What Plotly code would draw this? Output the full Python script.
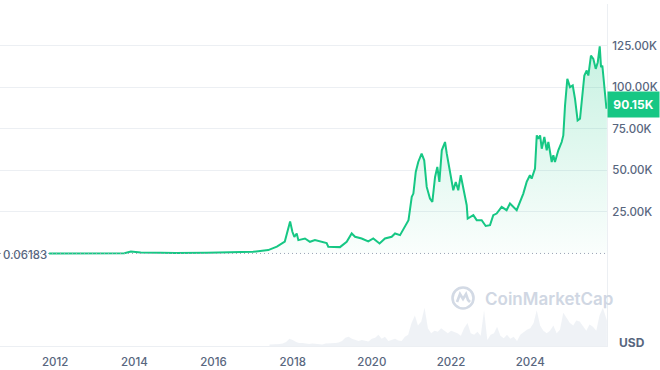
import plotly.graph_objects as go

# ---- price series (USD) ----
dates = [
    "2011-11-07", "2012-06-01", "2013-01-01", "2013-04-10", "2013-10-01", "2013-11-30",
    "2014-03-01", "2014-09-01", "2015-01-15", "2015-11-01", "2016-06-15", "2017-01-01",
    "2017-05-20", "2017-08-08", "2017-10-20", "2017-12-08", "2017-12-29", "2018-01-16",
    "2018-02-07", "2018-02-22", "2018-04-24", "2018-06-09", "2018-07-25", "2018-09-25",
    "2018-11-10", "2018-11-25", "2019-03-13", "2019-05-14", "2019-06-29", "2019-07-30",
    "2019-09-29", "2019-11-29", "2020-01-14", "2020-03-12", "2020-05-01", "2020-07-02",
    "2020-08-02", "2020-09-17", "2020-11-02", "2020-12-04", "2021-01-03", "2021-01-18",
    "2021-02-09", "2021-03-04", "2021-04-04", "2021-04-28", "2021-05-21", "2021-06-20",
    "2021-07-12", "2021-08-06", "2021-08-27", "2021-09-15", "2021-10-07", "2021-11-06",
    "2021-11-22", "2021-12-22", "2022-01-21", "2022-02-13", "2022-03-08", "2022-03-31",
    "2022-04-24", "2022-05-25", "2022-06-03", "2022-07-25", "2022-08-25", "2022-10-10",
    "2022-11-16", "2022-12-26", "2023-01-25", "2023-02-25", "2023-04-12", "2023-05-28",
    "2023-06-28", "2023-07-28", "2023-08-29", "2023-10-29", "2023-11-29", "2023-12-29",
    "2024-01-14", "2024-02-14", "2024-03-01", "2024-03-15", "2024-04-01", "2024-04-16",
    "2024-05-10", "2024-06-01", "2024-06-16", "2024-07-17", "2024-08-01", "2024-08-16",
    "2024-09-16", "2024-10-17", "2024-11-01", "2024-11-17", "2024-12-08", "2025-01-02",
    "2025-01-27", "2025-02-17", "2025-03-13", "2025-04-04", "2025-04-25", "2025-05-14",
    "2025-06-05", "2025-06-20", "2025-07-14", "2025-08-05", "2025-08-27", "2025-09-15",
    "2025-10-03", "2025-10-15", "2025-10-27", "2025-11-14", "2025-11-27", "2025-12-04",
    "2025-12-08",
]
prices = [
    0.06183, 6, 13, 200, 130, 1100,
    600, 450, 200, 350, 700, 1000,
    2000, 4100, 7100, 19200, 13000, 10000,
    12000, 8000, 9000, 7000, 8000, 6700,
    6200, 4000, 3800, 7000, 12000, 10000,
    9000, 7200, 9000, 6000, 9000, 10000,
    12000, 11000, 16000, 20000, 34000, 36000,
    49000, 55000, 60000, 56000, 40000, 33000,
    31000, 46000, 52000, 43000, 62000, 67000,
    60000, 49000, 38000, 43000, 38000, 47000,
    39000, 29000, 21000, 23000, 20000, 20000,
    16500, 17000, 23000, 24000, 28000, 26000,
    30000, 28000, 26000, 36000, 43000, 47000,
    45000, 51000, 71000, 69000, 71000, 63000,
    70000, 62000, 67000, 55000, 59000, 55000,
    62000, 67000, 71000, 89000, 105000, 100000,
    101000, 93000, 80000, 81000, 93000, 107000,
    110000, 107000, 119000, 117000, 111000, 115000,
    124500, 112000, 113000, 99000, 90000, 87000,
    90150,
]
baseline_value = 0.06183
last_label = "90.15K"

# ---- volume (relative units, monthly) ----
vol_dates = [
    "2017-06-01", "2017-07-01", "2017-08-01", "2017-09-01", "2017-10-01", "2017-11-01", "2017-12-01",
    "2018-01-01", "2018-02-01", "2018-03-01", "2018-04-01", "2018-05-01", "2018-06-01",
    "2018-07-01", "2018-08-01", "2018-09-01", "2018-10-01", "2018-11-01", "2018-12-01",
    "2019-01-01", "2019-02-01", "2019-03-01", "2019-04-01", "2019-05-01", "2019-06-01",
    "2019-07-01", "2019-08-01", "2019-09-01", "2019-10-01", "2019-11-01", "2019-12-01",
    "2020-01-01", "2020-02-01", "2020-03-01", "2020-04-01", "2020-05-01", "2020-06-01",
    "2020-07-01", "2020-08-01", "2020-09-01", "2020-10-01", "2020-11-01", "2020-12-01",
    "2021-01-01", "2021-02-01", "2021-03-01", "2021-04-01", "2021-05-01", "2021-06-01",
    "2021-07-01", "2021-08-01", "2021-09-01", "2021-10-01", "2021-11-01", "2021-12-01",
    "2022-01-01", "2022-02-01", "2022-03-01", "2022-04-01", "2022-05-01", "2022-06-01",
    "2022-07-01", "2022-08-01", "2022-09-01", "2022-10-01", "2022-11-01", "2022-12-01",
    "2023-01-01", "2023-02-01", "2023-03-01", "2023-04-01", "2023-05-01", "2023-06-01",
    "2023-07-01", "2023-08-01", "2023-09-01", "2023-10-01", "2023-11-01", "2023-12-01",
    "2024-01-01", "2024-02-01", "2024-03-01", "2024-04-01", "2024-05-01", "2024-06-01",
    "2024-07-01", "2024-08-01", "2024-09-01", "2024-10-01", "2024-11-01", "2024-12-01",
    "2025-01-01", "2025-02-01", "2025-03-01", "2025-04-01", "2025-05-01", "2025-06-01",
    "2025-07-01", "2025-08-01", "2025-09-01", "2025-10-01", "2025-11-01", "2025-12-08",
]
volumes = [
    3, 3, 4, 4, 5, 8, 14,
    12, 8, 6, 6, 5, 4,
    5, 4, 4, 3, 5, 5,
    5, 6, 7, 10, 16, 18,
    14, 12, 10, 12, 10, 9,
    14, 16, 22, 14, 18, 10,
    12, 14, 11, 10, 18, 22,
    45, 60, 40, 48, 75, 35,
    25, 30, 28, 35, 30, 25,
    30, 28, 25, 20, 35, 45,
    25, 22, 28, 20, 70, 12,
    22, 25, 38, 20, 15, 22,
    14, 18, 10, 22, 28, 32,
    35, 45, 70, 40, 30, 25,
    30, 40, 25, 32, 65, 55,
    45, 40, 50, 48, 40, 30,
    42, 38, 30, 60, 75, 50,
]

# ---- event markers under the time axis ----
event_dates = ["2012-07-22", "2017-01-01", "2020-11-03", "2022-05-01",
               "2023-12-28", "2024-12-13", "2025-05-31"]
event_colors = ["#16c784", "#6188ff", "#6188ff", "#16c784",
                "#16c784", "#8a9bb8", "#16c784"]
event_level = [-45] * len(event_dates)

# ---- axis ticks ----
year_ticks = ["2012-01-01", "2014-01-01", "2016-01-01", "2018-01-01",
              "2020-01-01", "2022-01-01", "2024-01-01"]
year_labels = ["2012", "2014", "2016", "2018", "2020", "2022", "2024"]
price_ticks = [-25000, 25000, 50000, 75000, 100000, 125000, 150000]
price_labels = ["", "25.00K", "50.00K", "75.00K", "100.00K", "125.00K", ""]

GREEN = "#16c784"
GRID = "#eceff3"
TXT = "#58667e"
FONT = "Inter"
FS = 11.5

fig = go.Figure()

fig.add_trace(go.Scatter(
    x=vol_dates, y=volumes, mode="lines", line=dict(width=0, color="rgba(0,0,0,0)"),
    fill="tozeroy", fillcolor="rgba(214,221,232,0.38)", yaxis="y2", hoverinfo="skip",
))

fig.add_trace(go.Scatter(
    x=event_dates, y=event_level, mode="markers", yaxis="y2", cliponaxis=False,
    marker=dict(symbol="circle", size=5, color=event_colors), hoverinfo="skip",
))

fig.add_trace(go.Scatter(
    x=dates, y=prices, mode="lines", line=dict(color=GREEN, width=2),
    fill="tozeroy",
    fillgradient=dict(type="vertical", start=0, stop=125000,
                      colorscale=[[0, "rgba(22,199,132,0.02)"], [1, "rgba(22,199,132,0.24)"]]),
    yaxis="y",
))

fig.add_shape(type="line", xref="paper", yref="y", x0=0, x1=1,
              y0=baseline_value, y1=baseline_value,
              line=dict(color="#9aa3b5", width=1, dash="1px,3px"))

# watermark logo (pixel-sized, anchored in paper coords)
ax_, ay_ = 0.7628, 0.1404
fig.add_shape(type="circle", xref="paper", yref="paper", xsizemode="pixel", ysizemode="pixel",
              xanchor=ax_, yanchor=ay_, x0=-10.5, x1=10.5, y0=-10.5, y1=10.5,
              line=dict(color="#d3dae5", width=2.6))
fig.add_shape(type="path", xref="paper", yref="paper", xsizemode="pixel", ysizemode="pixel",
              xanchor=ax_, yanchor=ay_,
              path="M -6,-4 L -3,4 L 0,-1 L 3,4 L 5,-2 L 7,-4",
              line=dict(color="#d3dae5", width=2.6))

fig.add_annotation(x=0.7957, y=0.1374, xref="paper", yref="paper", xanchor="left",
                   yanchor="middle", text="CoinMarketCap", showarrow=False,
                   font=dict(family=FONT, size=17, color="#d0d7e3", weight=600))

fig.add_annotation(x=0, y=baseline_value, xref="paper", yref="y", xanchor="left",
                   yanchor="middle", xshift=1, yshift=-2, text=f"{baseline_value}",
                   showarrow=False, font=dict(family=FONT, size=FS, color=TXT, weight=500))

fig.add_annotation(x=1, y=prices[-1], xref="paper", yref="y", xanchor="left",
                   yanchor="middle", text=f"<b>{last_label}</b>", showarrow=False,
                   bgcolor=GREEN, borderpad=5, width=41, yshift=-1,
                   font=dict(family=FONT, size=12, color="white"))

fig.add_annotation(x=1.0412, y=0.0088, xref="paper", yref="paper", xanchor="center",
                   yanchor="middle", text="<b>USD</b>", showarrow=False,
                   font=dict(family=FONT, size=12, color=TXT))

fig.update_layout(
    width=660, height=370,
    margin=dict(l=0, r=53, t=4, b=24),
    paper_bgcolor="white", plot_bgcolor="white",
    showlegend=False,
    font=dict(family=FONT, size=FS, color=TXT),
    xaxis=dict(
        type="date", range=["2010-08-11", "2025-12-09"],
        tickvals=year_ticks, ticktext=year_labels,
        showgrid=False, zeroline=False, showline=True, linecolor=GRID, linewidth=1,
        ticks="", anchor="y2", ticklabelstandoff=5,
        tickfont=dict(family=FONT, size=FS, color=TXT, weight=500),
    ),
    yaxis=dict(
        domain=[0.1491, 1], range=[-25000, 150000], side="right",
        tickvals=price_ticks, ticktext=price_labels,
        showgrid=True, gridcolor=GRID, gridwidth=1, zeroline=False,
        showline=True, linecolor=GRID, ticks="", ticklabelstandoff=2,
        tickfont=dict(family=FONT, size=FS, color=TXT, weight=500),
    ),
    yaxis2=dict(
        domain=[0, 0.1491], range=[0, 100], side="right",
        showgrid=False, zeroline=False, showticklabels=False,
        showline=True, linecolor=GRID, ticks="",
    ),
)

fig.write_html("out.html", config={"displayModeBar": False},
               post_script="document.body.style.margin='0';")
